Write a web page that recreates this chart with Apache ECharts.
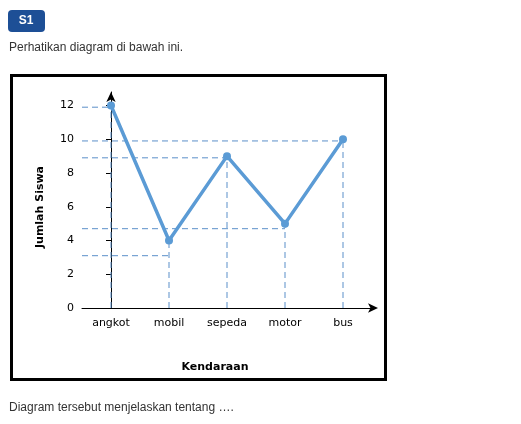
<!DOCTYPE html><html><head><meta charset="utf-8"><script src="https://cdn.jsdelivr.net/npm/echarts@6/dist/echarts.min.js"></script>
<style>body{margin:0;background:#fff}#c{width:521px;height:424px}</style></head><body><div id="c"></div><script>
const categories=['angkot','mobil','sepeda','motor','bus'];
const values=[12,4,9,5,10];
const guideLevels=[11.9,3.1,8.9,4.7,9.9];
const yTicks=[0,2,4,6,8,10,12];
const ch=echarts.init(document.getElementById('c'));
const series=[];
categories.forEach((c,i)=>{
 series.push({type:'line',xAxisIndex:1,data:[[-0.5,guideLevels[i]],[i,guideLevels[i]]],symbol:'none',lineStyle:{color:'#5b8fc9',width:1,type:[6,4]},silent:true,z:1});
 series.push({type:'line',xAxisIndex:1,data:[[i,0],[i,Math.max(values[i],guideLevels[i])]],symbol:'none',lineStyle:{color:'#5b8fc9',width:1,type:[6,4]},silent:true,z:1});
});
series.push({type:'line',xAxisIndex:1,data:values.map((v,i)=>[i,v]),symbol:'circle',symbolSize:8,itemStyle:{color:'#5b9bd5'},lineStyle:{color:'#5b9bd5',width:3.5},z:3});
ch.setOption({animation:false,
grid:{left:82,right:149,top:92,bottom:116},
xAxis:[{type:'category',data:categories,boundaryGap:true,axisLine:{lineStyle:{color:'#000'},symbol:['none','arrow'],symbolSize:[7,10],symbolOffset:[0,6]},axisTick:{alignWithLabel:true,length:5,lineStyle:{color:'#000'}},axisLabel:{color:'#000',fontFamily:'DejaVu Sans',fontSize:11,margin:10},splitLine:{show:false}},
{type:'value',min:-0.5,max:4.5,show:false,splitLine:{show:false}}],
yAxis:{type:'value',min:0,max:12.8,interval:2,axisLine:{show:true,lineStyle:{color:'#000'},symbol:['none','arrow'],symbolSize:[7,10]},axisTick:{show:true,length:5,lineStyle:{color:'#000'},customValues:yTicks},axisLabel:{color:'#000',fontFamily:'DejaVu Sans',fontSize:11,customValues:yTicks},splitLine:{show:false}},
series:series,
graphic:[
 {type:'rect',shape:{x:8,y:10,width:37,height:22,r:4},style:{fill:'#1d4f96'}},
 {type:'text',x:26,y:21,style:{text:'S1',fill:'#fff',font:'bold 12px "Liberation Sans"',align:'center',verticalAlign:'middle'}},
 {type:'text',x:9,y:48,style:{text:'Perhatikan diagram di bawah ini.',fill:'#333',font:'12px "Liberation Sans"',verticalAlign:'middle'}},
 {type:'rect',shape:{x:11.5,y:75.5,width:374,height:304},style:{fill:'none',stroke:'#000',lineWidth:3}},
 {type:'text',x:215,y:367,style:{text:'Kendaraan',fill:'#000',font:'bold 11px "DejaVu Sans"',align:'center',verticalAlign:'middle'}},
 {type:'text',x:40,y:207,rotation:Math.PI/2,style:{text:'Jumlah Siswa',fill:'#000',font:'bold 11px "DejaVu Sans"',align:'center',verticalAlign:'middle'}},
 {type:'text',x:9,y:408,style:{text:'Diagram tersebut menjelaskan tentang ….',fill:'#333',font:'12px "Liberation Sans"',verticalAlign:'middle'}}
]});
</script></body></html>
